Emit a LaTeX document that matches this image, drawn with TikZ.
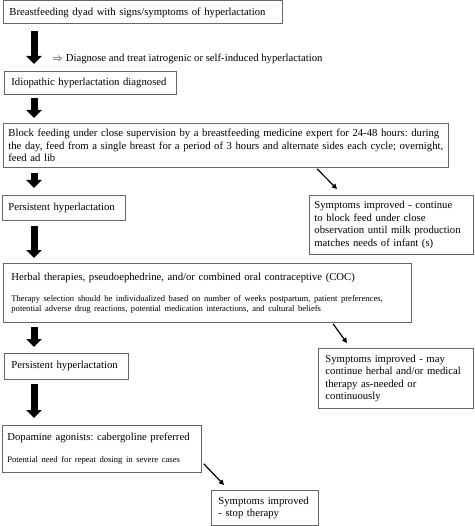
\documentclass[tikz,border=0pt]{standalone}
\usepackage{fontspec}
\setmainfont{Liberation Serif}
\usetikzlibrary{arrows.meta,calc}
\frenchspacing
\begin{document}
\begin{tikzpicture}[x=1pt,y=-1pt,
  box/.style={draw=black!60, line width=0.8pt, anchor=north west, inner ysep=2pt,
    align=left, font=\fontsize{10.7}{12.5}\selectfont},
  bigarrow/.style={line width=7pt, -{Triangle[width=15pt,length=8pt]}},
  thinarrow/.style={line width=1.2pt, -{Triangle[width=5pt,length=5pt]}}]
\useasboundingbox (0,0) rectangle (474,526);
\coordinate (ax) at (34,0);
% boxes
\node[box, inner xsep=6pt, text width=267pt, minimum height=23pt] (b1) at (3,0.5)
  {Breastfeeding dyad with signs/symptoms of hyperlactation};
\node[box, inner xsep=7pt, text width=158pt, minimum height=23pt] (b2) at (4,71)
  {Idiopathic hyperlactation diagnosed};
\node[box, inner xsep=5pt, text width=435pt, minimum height=44pt] (b3) at (3,123)
  {Block feeding under close supervision by a breastfeeding medicine expert for 24-48 hours: during\\
   the day, feed from a single breast for a period of 3 hours and alternate sides each cycle; overnight,\\
   feed ad lib};
\node[box, inner xsep=6pt, text width=111pt, minimum height=25pt] (b4) at (2,195)
  {Persistent hyperlactation};
\node[box, inner xsep=5pt, text width=154pt, minimum height=59pt] (b5) at (309,195)
  {Symptoms improved - continue\\ to block feed under close\\ observation until milk production\\ matches needs of infant (s)};
\node[box, inner xsep=8pt, text width=392pt, minimum height=59pt] (b6) at (3,263)
  {Herbal therapies, pseudoephedrine, and/or combined oral contraceptive (COC)\par\vspace{12pt}%
   {\fontsize{8.6}{9.5}\selectfont Therapy selection should be individualized based on number of weeks postpartum, patient preferences,\\
   potential adverse drug reactions, potential medication interactions, and cultural beliefs\par}};
\node[box, inner xsep=7pt, text width=141pt, minimum height=60pt] (b7) at (318,348)
  {Symptoms improved - may\\ continue herbal and/or medical\\ therapy as-needed or\\ continuously};
\node[box, inner xsep=7pt, text width=110pt, minimum height=26pt] (b8) at (4,353)
  {Persistent hyperlactation};
\node[box, inner xsep=5pt, text width=189pt, minimum height=47pt] (b9) at (2,425)
  {Dopamine agonists: cabergoline preferred\par\vspace{12pt}%
   {\fontsize{8.6}{9.5}\selectfont Potential need for repeat dosing in severe cases\par}};
\node[box, inner xsep=7pt, text width=93pt, minimum height=35pt] (b10) at (211,490)
  {Symptoms improved\\ - stop therapy};
% side note
\node[anchor=west, inner sep=0pt, font=\fontsize{10.7}{12.5}\selectfont] (note) at (52,59)
  {$\Rightarrow$\ Diagnose and treat iatrogenic or self-induced hyperlactation};
% thick arrows
\draw[bigarrow, shorten <=7pt, shorten >=7pt] (b1.south -| ax) -- (b2.north -| ax);
\draw[bigarrow, shorten <=3pt, shorten >=5pt] (b2.south -| ax) -- (b3.north -| ax);
\draw[bigarrow, shorten <=5pt, shorten >=7pt] (b3.south -| ax) -- (b4.north -| ax);
\draw[bigarrow, shorten <=5pt, shorten >=5pt] (b4.south -| ax) -- (b6.north -| ax);
\draw[bigarrow, shorten <=4pt, shorten >=6pt] (b6.south -| ax) -- (b8.north -| ax);
\draw[bigarrow, shorten <=4pt, shorten >=7pt] (b8.south -| ax) -- (b9.north -| ax);
% thin diagonal arrows
\coordinate (d1s) at ($(b3.south west)+(314,1)$);
\coordinate (d1e) at ($(b5.north west)+(28,-6)$);
\draw[thinarrow] (d1s) -- (d1e);
\coordinate (d2s) at ($(b6.south west)+(330,1)$);
\coordinate (d2e) at ($(b7.north west)+(29,-5)$);
\draw[thinarrow] (d2s) -- (d2e);
\coordinate (d3s) at ($(b9.south east)+(2,-9)$);
\coordinate (d3e) at ($(b10.north west)+(13,-5)$);
\draw[thinarrow] (d3s) -- (d3e);
\end{tikzpicture}
\end{document}
